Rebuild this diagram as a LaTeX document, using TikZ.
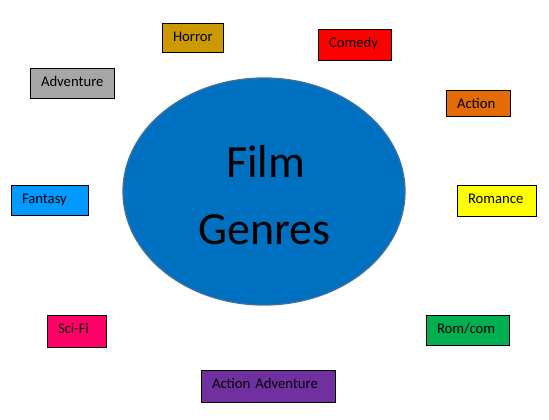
\documentclass[tikz,border=0pt]{standalone}
\usepackage{fontspec}
\setmainfont{Carlito}
\usetikzlibrary{shapes.geometric}
\definecolor{cHorror}{RGB}{204,153,0}
\definecolor{cAdventure}{RGB}{166,166,166}
\definecolor{cFantasy}{RGB}{0,153,255}
\definecolor{cComedy}{RGB}{255,0,0}
\definecolor{cAction}{RGB}{227,108,9}
\definecolor{cRomance}{RGB}{255,255,0}
\definecolor{cScifi}{RGB}{255,0,102}
\definecolor{cRomcom}{RGB}{0,176,80}
\definecolor{cActAdv}{RGB}{112,48,160}
\definecolor{cCentre}{RGB}{0,112,192}
\definecolor{cCentreLine}{RGB}{65,113,156}
\tikzset{
  genre/.style n args={3}{draw=black, line width=1pt, fill=#1, anchor=north west,
    inner xsep=10.5pt, inner ysep=0pt, text height=18pt, text depth=#3pt-18pt,
    text width=#2pt-21pt, align=left, font=\fontsize{14.7}{17}\selectfont},
  bigtext/.style={anchor=base, inner sep=0pt, font=\fontsize{46}{55}\selectfont}
}
\begin{document}
\begin{tikzpicture}[x=1pt,y=-1pt]
\useasboundingbox (0,0) rectangle (549,420);
\node[ellipse, draw=cCentreLine, line width=1.3pt, fill=cCentre, minimum width=282pt, minimum height=227pt, inner sep=0pt] (centre) at (264,191.5) {};
\node[bigtext] (film) at (265.5,177) {Film};
\node[bigtext] (genres) at (264.5,244) {Genres};
\node[genre={cHorror}{61}{29}] (horror) at (162,23) {Horror};
\node[genre={cAdventure}{84}{30}] (adventure) at (30,68) {Adventure};
\node[genre={cFantasy}{77}{30}] (fantasy) at (11,185) {Fantasy};
\node[genre={cComedy}{73}{31}] (comedy) at (318,29) {Comedy};
\node[genre={cAction}{64}{26}] (action) at (446,90) {Action};
\node[genre={cRomance}{79}{31}] (romance) at (457,185) {Romance};
\node[genre={cScifi}{59}{32}] (scifi) at (47,315) {Sci-Fi};
\node[genre={cRomcom}{83}{30}] (romcom) at (426,315) {Rom/com};
\node[genre={cActAdv}{134}{32}] (actadv) at (201,370) {Action Adventure};
\end{tikzpicture}
\end{document}
